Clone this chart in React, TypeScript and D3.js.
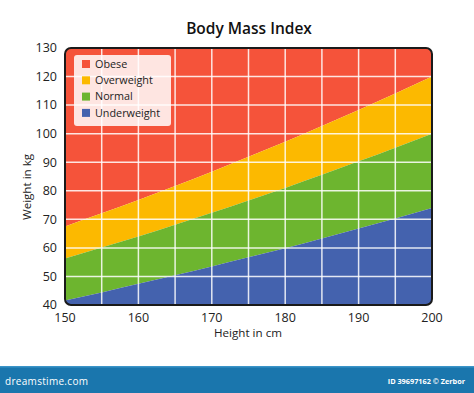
import React from "react";
import * as d3 from "d3";

const heights = [150, 155, 160, 165, 170, 175, 180, 185, 190, 195, 200];
// boundary weights (kg)
const underNormal = [41.6, 44.4, 47.4, 50.4, 53.5, 56.7, 59.9, 63.3, 66.8, 70.3, 74.0];
const normalOver = [56.3, 60.1, 64.0, 68.1, 72.3, 76.6, 81.0, 85.6, 90.3, 95.1, 100.0];
const overObese = [67.5, 72.1, 76.8, 81.7, 86.7, 91.9, 97.2, 102.7, 108.3, 114.1, 120.0];
const xTicks = [150, 160, 170, 180, 190, 200];
const yTicks = [40, 50, 60, 70, 80, 90, 100, 110, 120, 130];
const xGrid = [155, 160, 165, 170, 175, 180, 185, 190, 195];
const yGrid = [50, 60, 70, 80, 90, 100, 110, 120];
const categories = ["Obese", "Overweight", "Normal", "Underweight"];
const colors = ["#f5533a", "#fcb900", "#6db52f", "#4462ae"];

const W = 474, H = 393;
const L = 65, R = 432, T = 48, B = 305;
const FONT = "'Open Sans', sans-serif";

export default function App() {
  const x = d3.scaleLinear().domain([150, 200]).range([L, R]);
  const y = d3.scaleLinear().domain([40, 130]).range([B, T]);
  const area = (lo: number[] | null, hi: number[] | null) =>
    d3
      .area<number>()
      .x((_, i) => x(heights[i]))
      .y0((_, i) => (lo ? y(lo[i]) : y(40)))
      .y1((_, i) => (hi ? y(hi[i]) : y(130)))
      .curve(d3.curveMonotoneX)(heights as any) as string;

  const bands = [
    { lo: overObese, hi: null, c: colors[0] },
    { lo: normalOver, hi: overObese, c: colors[1] },
    { lo: underNormal, hi: normalOver, c: colors[2] },
    { lo: null, hi: underNormal, c: colors[3] },
  ];

  return (
    <svg width={W} height={H} style={{ position: "absolute", left: 0, top: 0, background: "#fff" }} fontFamily={FONT}>
      <defs>
        <clipPath id="plotclip">
          <rect x={L} y={T} width={R - L} height={B - T} rx={6} ry={6} />
        </clipPath>
      </defs>
      <text x={249} y={34} textAnchor="middle" fontSize={15.5} fontWeight={600} fill="#111">
        Body Mass Index
      </text>
      <g clipPath="url(#plotclip)">
        {bands.map((b, i) => (
          <path key={i} d={area(b.lo, b.hi)} fill={b.c} />
        ))}
        {xGrid.map((v) => (
          <line key={"gx" + v} x1={x(v)} x2={x(v)} y1={T} y2={B} stroke="#fff" strokeOpacity={0.85} strokeWidth={1.5} />
        ))}
        {yGrid.map((v) => (
          <line key={"gy" + v} x1={L} x2={R} y1={y(v)} y2={y(v)} stroke="#fff" strokeOpacity={0.85} strokeWidth={1.5} />
        ))}
      </g>
      <rect x={L} y={T} width={R - L} height={B - T} rx={6} ry={6} fill="none" stroke="#1a1a1a" strokeWidth={2} />
      {/* legend */}
      <rect x={74} y={55} width={97} height={71} rx={3} fill="#fff" fillOpacity={0.85} />
      {categories.map((c, i) => (
        <g key={c} transform={`translate(0, ${64 + i * 16.3})`}>
          <rect x={82} y={-4} width={8} height={8} fill={colors[i]} />
          <text x={95} y={0} dy="0.35em" fontSize={10.8} fill="#222">
            {c}
          </text>
        </g>
      ))}
      {/* axes labels */}
      {yTicks.map((v) => (
        <text key={"yt" + v} x={57} y={y(v)} dy="0.35em" textAnchor="end" fontSize={12.5} fill="#222">
          {v}
        </text>
      ))}
      {xTicks.map((v) => (
        <text key={"xt" + v} x={x(v)} y={318} dy="0.35em" textAnchor="middle" fontSize={12.5} fill="#222">
          {v}
        </text>
      ))}
      <text x={248} y={333} dy="0.35em" textAnchor="middle" fontSize={11.6} fill="#222">
        Height in cm
      </text>
      <text transform={`translate(27, 187) rotate(-90)`} dy="0.35em" textAnchor="middle" fontSize={11.6} fill="#222">
        Weight in kg
      </text>
      {/* footer bar */}
      <rect x={0} y={366} width={W} height={H - 366} fill="#1a76ad" />
      <rect x={0} y={366} width={W} height={1.5} fill="#3a94c8" />
      <text x={5} y={381} dy="0.35em" fontSize={10} fill="#fff" letterSpacing={0.3}>
        dreamstime.com
      </text>
      <text x={465} y={381} dy="0.35em" textAnchor="end" fontSize={7.3} fontWeight={700} fill="#fff">
        ID 39697162 © Zerbor
      </text>
    </svg>
  );
}
